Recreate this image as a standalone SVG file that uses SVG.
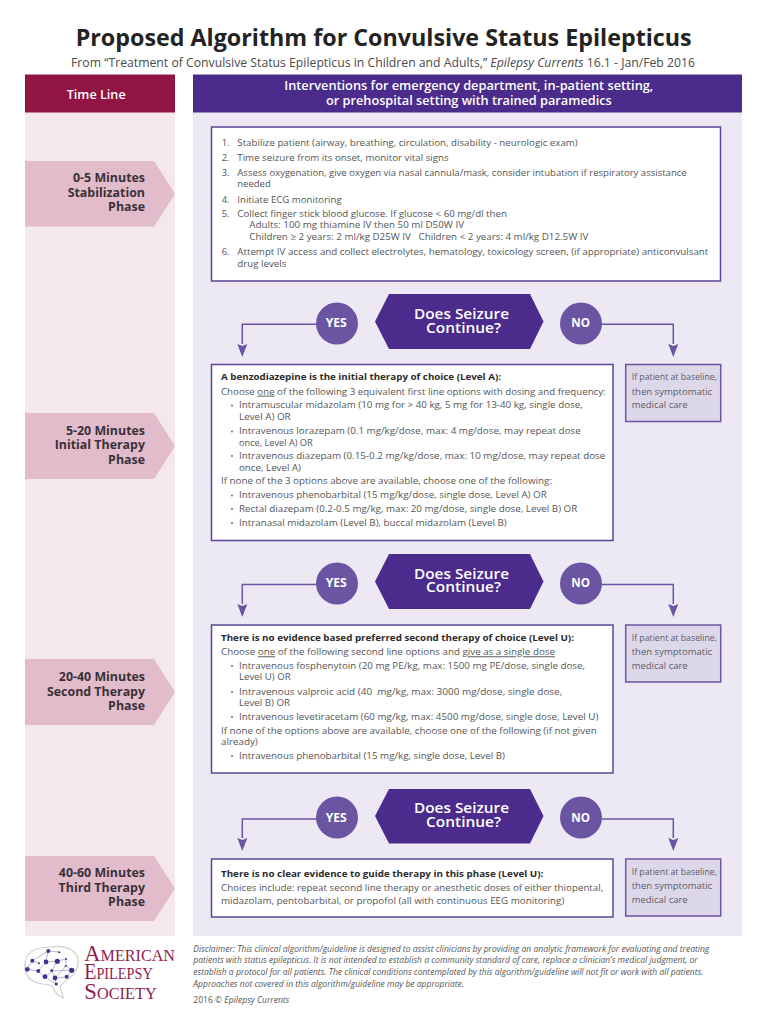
<svg xmlns="http://www.w3.org/2000/svg" width="768" height="1024" viewBox="0 0 768 1024">
<style>
text{font-family:"Open Sans","Liberation Sans",sans-serif}
.b{font-size:9.4px;fill:#565656}
.h{font-size:9.4px;font-weight:700;fill:#2b2b2b}
.s{font-size:9.2px;fill:#5d5a66}
.d{font-size:9px;font-style:italic;fill:#565656}
.t{font-size:12.4px;font-weight:700;fill:#3a3138;text-anchor:end}
.q{font-size:14px;font-weight:600;fill:#fff;text-anchor:middle}
.c{font-size:12px;font-weight:700;fill:#fff;text-anchor:middle}
.hw{font-size:12px;font-weight:600;fill:#fff}
.box{fill:#fff;stroke:#5b4499;stroke-width:1.5}
.side{fill:#dcd8ea;stroke:#6b55a3;stroke-width:1.5}
.hex{fill:#4b2c8c}
.circ{fill:#6b55a3}
.arr{fill:#e2bccb}
.conn{fill:none;stroke:#6b55a3;stroke-width:1.5;marker-end:url(#ah)}
.logo{font-family:"Liberation Serif",serif;fill:#8f1d4e;font-size:23px}
.sc{font-size:16.5px}
.bl{fill:#5d5a66}
</style>
<defs>
<marker id="ah" markerUnits="userSpaceOnUse" markerWidth="14" markerHeight="12" refX="0" refY="5.5" orient="auto" viewBox="0 0 14 11">
<polygon points="0,0.5 13,5.5 0,10.5 2,5.5" fill="#6b55a3"/>
</marker>
</defs>
<rect width="768" height="1024" fill="#fff"/>
<g id="title">
<text x="75.7" y="45.7" font-size="22.5" font-weight="700" fill="#232323" textLength="616" lengthAdjust="spacingAndGlyphs">Proposed Algorithm for Convulsive Status Epilepticus</text>
<text x="71" y="66.5" font-size="12" fill="#4a4a4a" textLength="624" lengthAdjust="spacingAndGlyphs">From “Treatment of Convulsive Status Epilepticus in Children and Adults,” <tspan font-style="italic">Epilepsy Currents</tspan> 16.1 - Jan/Feb 2016</text>
</g>
<g id="timeline-column">
<rect x="25" y="112" width="150" height="824" fill="#f4e7ed"/>
<rect x="25" y="74.5" width="150" height="38" fill="#921443"/>
<text class="hw" x="66.7" y="99" textLength="59" lengthAdjust="spacingAndGlyphs">Time Line</text>
</g>
<g id="interventions-column">
<rect x="193" y="112" width="549" height="824" fill="#ece9f4"/>
<rect x="193" y="74.5" width="549" height="38" fill="#4b2c8c"/>
<text class="hw" x="284.3" y="89.7" textLength="369" lengthAdjust="spacingAndGlyphs">Interventions for emergency department, in-patient setting,</text>
<text class="hw" x="326" y="105" textLength="285.7" lengthAdjust="spacingAndGlyphs">or prehospital setting with trained paramedics</text>
</g>
<g id="phase-1">
<polygon class="arr" points="25,161 154,161 175,194 154,226.5 25,226.5"/>
<text class="t" x="145" y="182">0-5 Minutes</text>
<text class="t" x="145" y="196.7">Stabilization</text>
<text class="t" x="145" y="210.7">Phase</text>
</g>
<g id="phase-2">
<polygon class="arr" points="25,413 154,413 175,446 154,479 25,479"/>
<text class="t" x="145" y="435">5-20 Minutes</text>
<text class="t" x="145" y="449.3">Initial Therapy</text>
<text class="t" x="145" y="464.3">Phase</text>
</g>
<g id="phase-3">
<polygon class="arr" points="25,659 154,659 175,692 154,725 25,725"/>
<text class="t" x="145" y="681">20-40 Minutes</text>
<text class="t" x="145" y="695.5">Second Therapy</text>
<text class="t" x="145" y="710">Phase</text>
</g>
<g id="phase-4">
<polygon class="arr" points="25,856 154,856 175,888.5 154,921 25,921"/>
<text class="t" x="145" y="877">40-60 Minutes</text>
<text class="t" x="145" y="892">Third Therapy</text>
<text class="t" x="145" y="906">Phase</text>
</g>
<g id="connectors">
<path class="conn" d="M317 324.3H242.3V344"/>
<path class="conn" d="M602 324.3H673.3V344"/>
<path class="conn" d="M317 584.5H242.3V604"/>
<path class="conn" d="M602 584.5H673.3V604"/>
<path class="conn" d="M317 819H242.3V838"/>
<path class="conn" d="M602 819H673.3V838"/>
</g>
<g id="stabilize-box">
<rect class="box" x="211.5" y="127" width="509" height="154"/>
<text class="b" x="221.7" y="146">1.</text><text class="b" x="237.3" y="146" textLength="340.4" lengthAdjust="spacingAndGlyphs">Stabilize patient (airway, breathing, circulation, disability - neurologic exam)</text>
<text class="b" x="221.7" y="161">2.</text><text class="b" x="237.3" y="161" textLength="211.4" lengthAdjust="spacingAndGlyphs">Time seizure from its onset, monitor vital signs</text>
<text class="b" x="221.7" y="176">3.</text><text class="b" x="237.3" y="176" textLength="449.4" lengthAdjust="spacingAndGlyphs">Assess oxygenation, give oxygen via nasal cannula/mask, consider intubation if respiratory assistance</text>
<text class="b" x="237.3" y="187" textLength="33.4" lengthAdjust="spacingAndGlyphs">needed</text>
<text class="b" x="221.7" y="202.7">4.</text><text class="b" x="237.3" y="202.7" textLength="104.4" lengthAdjust="spacingAndGlyphs">Initiate ECG monitoring</text>
<text class="b" x="221.7" y="217">5.</text><text class="b" x="237.3" y="217" textLength="269.7" lengthAdjust="spacingAndGlyphs">Collect finger stick blood glucose. If glucose &lt; 60 mg/dl then</text>
<text class="b" x="249.3" y="228.3" textLength="214.7" lengthAdjust="spacingAndGlyphs">Adults: 100 mg thiamine IV then 50 ml D50W IV</text>
<text class="b" x="249.3" y="240" textLength="339" lengthAdjust="spacingAndGlyphs" xml:space="preserve">Children ≥ 2 years: 2 ml/kg D25W IV   Children &lt; 2 years: 4 ml/kg D12.5W IV</text>
<text class="b" x="221.7" y="255.3">6.</text><text class="b" x="237.3" y="255.3" textLength="471" lengthAdjust="spacingAndGlyphs">Attempt IV access and collect electrolytes, hematology, toxicology screen, (if appropriate) anticonvulsant</text>
<text class="b" x="237.3" y="266.7" textLength="49" lengthAdjust="spacingAndGlyphs">drug levels</text>
</g>
<g id="decision-1">
<polygon class="hex" points="375,321.5 389,294 530,294 543.5,321.5 530,349 389,349"/>
<text class="q" x="461.5" y="318.7" textLength="95" lengthAdjust="spacingAndGlyphs">Does Seizure</text>
<text class="q" x="463.5" y="332.7" textLength="75" lengthAdjust="spacingAndGlyphs">Continue?</text>
</g>
<g id="yes-1"><circle class="circ" cx="337" cy="323.5" r="21"/><text class="c" x="336.2" y="327.3" textLength="21" lengthAdjust="spacingAndGlyphs">YES</text></g>
<g id="no-1"><circle class="circ" cx="581" cy="323.5" r="21"/><text class="c" x="580.7" y="327.3" textLength="18.7" lengthAdjust="spacingAndGlyphs">NO</text></g>
<g id="initial-box">
<rect class="box" x="211.5" y="364.5" width="401.5" height="176"/>
<text class="h" x="221" y="380.3" textLength="280" lengthAdjust="spacingAndGlyphs">A benzodiazepine is the initial therapy of choice (Level A):</text>
<text class="b" x="221" y="394.7" textLength="384.7" lengthAdjust="spacingAndGlyphs">Choose <tspan text-decoration="underline">one</tspan> of the following 3 equivalent first line options with dosing and frequency:</text>
<circle class="bl" cx="232" cy="405.5" r="0.9"/><text class="b" x="239" y="408.3" textLength="343.7" lengthAdjust="spacingAndGlyphs">Intramuscular midazolam (10 mg for &gt; 40 kg, 5 mg for 13-40 kg, single dose,</text>
<text class="b" x="239" y="420" textLength="51.7" lengthAdjust="spacingAndGlyphs">Level A) OR</text>
<circle class="bl" cx="232" cy="431.5" r="0.9"/><text class="b" x="239" y="434.3" textLength="341.7" lengthAdjust="spacingAndGlyphs">Intravenous lorazepam (0.1 mg/kg/dose, max: 4 mg/dose, may repeat dose</text>
<text class="b" x="239" y="445.7" textLength="73.7" lengthAdjust="spacingAndGlyphs">once, Level A) OR</text>
<circle class="bl" cx="232" cy="456" r="0.9"/><text class="b" x="239" y="459" textLength="366.3" lengthAdjust="spacingAndGlyphs">Intravenous diazepam (0.15-0.2 mg/kg/dose, max: 10 mg/dose, may repeat dose</text>
<text class="b" x="239" y="470.7" textLength="62" lengthAdjust="spacingAndGlyphs">once, Level A)</text>
<text class="b" x="221" y="484" textLength="331" lengthAdjust="spacingAndGlyphs">If none of the 3 options above are available, choose one of the following:</text>
<circle class="bl" cx="232" cy="495.5" r="0.9"/><text class="b" x="239" y="498.3" textLength="307.7" lengthAdjust="spacingAndGlyphs">Intravenous phenobarbital (15 mg/kg/dose, single dose, Level A) OR</text>
<circle class="bl" cx="232" cy="509" r="0.9"/><text class="b" x="239" y="512" textLength="338.3" lengthAdjust="spacingAndGlyphs">Rectal diazepam (0.2-0.5 mg/kg, max: 20 mg/dose, single dose, Level B) OR</text>
<circle class="bl" cx="232" cy="523" r="0.9"/><text class="b" x="239" y="526" textLength="267.7" lengthAdjust="spacingAndGlyphs">Intranasal midazolam (Level B), buccal midazolam (Level B)</text>
</g>
<g id="side-1">
<rect class="side" x="625.7" y="364.5" width="95" height="57"/>
<text class="s" x="631.7" y="380" textLength="85.3" lengthAdjust="spacingAndGlyphs">If patient at baseline,</text>
<text class="s" x="631.7" y="395" textLength="80.5" lengthAdjust="spacingAndGlyphs">then symptomatic</text>
<text class="s" x="631.7" y="408.3" textLength="56" lengthAdjust="spacingAndGlyphs">medical care</text>
</g>
<g id="decision-2">
<polygon class="hex" points="375,581.5 389,554 530,554 543.5,581.5 530,609 389,609"/>
<text class="q" x="461.5" y="579.3" textLength="95" lengthAdjust="spacingAndGlyphs">Does Seizure</text>
<text class="q" x="463.5" y="592.3" textLength="75" lengthAdjust="spacingAndGlyphs">Continue?</text>
</g>
<g id="yes-2"><circle class="circ" cx="337" cy="583.5" r="21"/><text class="c" x="336.2" y="586.7" textLength="21" lengthAdjust="spacingAndGlyphs">YES</text></g>
<g id="no-2"><circle class="circ" cx="581" cy="583.5" r="21"/><text class="c" x="580.7" y="586.7" textLength="18.7" lengthAdjust="spacingAndGlyphs">NO</text></g>
<g id="second-box">
<rect class="box" x="211.5" y="625" width="401.5" height="148"/>
<text class="h" x="221" y="641" textLength="353" lengthAdjust="spacingAndGlyphs">There is no evidence based preferred second therapy of choice (Level U):</text>
<text class="b" x="221" y="655.3" textLength="334" lengthAdjust="spacingAndGlyphs">Choose <tspan text-decoration="underline">one</tspan> of the following second line options and <tspan text-decoration="underline">give as a single dose</tspan></text>
<circle class="bl" cx="232" cy="666" r="0.9"/><text class="b" x="239" y="669" textLength="346" lengthAdjust="spacingAndGlyphs">Intravenous fosphenytoin (20 mg PE/kg, max: 1500 mg PE/dose, single dose,</text>
<text class="b" x="239" y="680.3" textLength="51.7" lengthAdjust="spacingAndGlyphs">Level U) OR</text>
<circle class="bl" cx="232" cy="692" r="0.9"/><text class="b" x="239" y="694.7" textLength="323.3" lengthAdjust="spacingAndGlyphs" xml:space="preserve">Intravenous valproic acid (40  mg/kg, max: 3000 mg/dose, single dose,</text>
<text class="b" x="239" y="706" textLength="51" lengthAdjust="spacingAndGlyphs">Level B) OR</text>
<circle class="bl" cx="232" cy="717" r="0.9"/><text class="b" x="239" y="719.7" textLength="359.3" lengthAdjust="spacingAndGlyphs">Intravenous levetiracetam (60 mg/kg, max: 4500 mg/dose, single dose, Level U)</text>
<text class="b" x="221" y="734" textLength="375.7" lengthAdjust="spacingAndGlyphs">If none of the options above are available, choose one of the following (if not given</text>
<text class="b" x="221" y="745.3" textLength="36.7" lengthAdjust="spacingAndGlyphs">already)</text>
<circle class="bl" cx="232" cy="756" r="0.9"/><text class="b" x="239" y="759" textLength="266" lengthAdjust="spacingAndGlyphs">Intravenous phenobarbital (15 mg/kg, single dose, Level B)</text>
</g>
<g id="side-2">
<rect class="side" x="625.7" y="625" width="95" height="57"/>
<text class="s" x="631.7" y="641" textLength="85.3" lengthAdjust="spacingAndGlyphs">If patient at baseline,</text>
<text class="s" x="631.7" y="654.7" textLength="80.5" lengthAdjust="spacingAndGlyphs">then symptomatic</text>
<text class="s" x="631.7" y="669" textLength="56" lengthAdjust="spacingAndGlyphs">medical care</text>
</g>
<g id="decision-3">
<polygon class="hex" points="375,816 389,789 530,789 543.5,816 530,843.5 389,843.5"/>
<text class="q" x="461.5" y="813.3" textLength="95" lengthAdjust="spacingAndGlyphs">Does Seizure</text>
<text class="q" x="463.5" y="827.3" textLength="75" lengthAdjust="spacingAndGlyphs">Continue?</text>
</g>
<g id="yes-3"><circle class="circ" cx="337" cy="817.5" r="21"/><text class="c" x="336.2" y="821.7" textLength="21" lengthAdjust="spacingAndGlyphs">YES</text></g>
<g id="no-3"><circle class="circ" cx="581" cy="817.5" r="21"/><text class="c" x="580.7" y="821.7" textLength="18.7" lengthAdjust="spacingAndGlyphs">NO</text></g>
<g id="third-box">
<rect class="box" x="211.5" y="859" width="401.5" height="58"/>
<text class="h" x="221" y="877" textLength="322.3" lengthAdjust="spacingAndGlyphs">There is no clear evidence to guide therapy in this phase (Level U):</text>
<text class="b" x="221" y="891.3" textLength="382.3" lengthAdjust="spacingAndGlyphs">Choices include: repeat second line therapy or anesthetic doses of either thiopental,</text>
<text class="b" x="221" y="904" textLength="343.3" lengthAdjust="spacingAndGlyphs">midazolam, pentobarbital, or propofol (all with continuous EEG monitoring)</text>
</g>
<g id="side-3">
<rect class="side" x="625.7" y="859" width="95" height="57"/>
<text class="s" x="631.7" y="875" textLength="85.3" lengthAdjust="spacingAndGlyphs">If patient at baseline,</text>
<text class="s" x="631.7" y="889.3" textLength="80.5" lengthAdjust="spacingAndGlyphs">then symptomatic</text>
<text class="s" x="631.7" y="903" textLength="56" lengthAdjust="spacingAndGlyphs">medical care</text>
</g>
<g id="logo">
<path d="M25 967C24 957 30 951 37 949C43 947 49 947 52 947C62 945 70 947 76 954C80 960 78 970 72 976C68 980 62 982 60 987C61 992 64 996 63 998C58 996 55 992 53 988C52 985 48 984 42 984C36 983 30 981 27 975C25 972 25 970 25 967Z" fill="#fff" stroke="#cfcfcf" stroke-width="1.2"/>
<g stroke="#8b83b8" stroke-width="0.6" fill="none">
<path d="M48 951L59 952M48 951L46 962M48 951L32 961M32 961L39 963M32 961L27 969M27 969L38 971M38 971L46 962M46 962L57 961M57 961L66 959M57 961L52 971M52 971L55 978M52 971L45 977M45 977L38 971M55 978L67 977M67 977L72 970M72 970L66 966M66 959L66 966M66 966L55 978M45 977L56 984M56 984L55 978M52 971L72 970"/>
</g>
<g fill="#42318f">
<circle cx="48.3" cy="951" r="2"/><circle cx="59.3" cy="952.3" r="1"/><circle cx="32.3" cy="960.7" r="2"/><circle cx="46" cy="962" r="2.4"/><circle cx="57.3" cy="961.3" r="2.6"/><circle cx="66" cy="959" r="1"/><circle cx="39" cy="963.3" r="1"/><circle cx="27.3" cy="969.3" r="2.4"/><circle cx="38.3" cy="971" r="2"/><circle cx="51.7" cy="970.7" r="1.4"/><circle cx="65.7" cy="966" r="1"/><circle cx="71.7" cy="970.3" r="2.6"/><circle cx="45" cy="976.7" r="2.4"/><circle cx="55" cy="978" r="2.4"/><circle cx="66.7" cy="976.7" r="2"/><circle cx="56.3" cy="984" r="1.6"/>
</g>
<text class="logo" x="84.3" y="960.7" textLength="90.7" lengthAdjust="spacingAndGlyphs">A<tspan class="sc">MERICAN</tspan></text>
<text class="logo" x="84.3" y="979.3" textLength="68.4" lengthAdjust="spacingAndGlyphs">E<tspan class="sc">PILEPSY</tspan></text>
<text class="logo" x="84.3" y="999" textLength="72.4" lengthAdjust="spacingAndGlyphs">S<tspan class="sc">OCIETY</tspan></text>
</g>
<g id="disclaimer">
<text class="d" x="193.3" y="952" textLength="516" lengthAdjust="spacingAndGlyphs">Disclaimer: This clinical algorithm/guideline is designed to assist clinicians by providing an analytic framework for evaluating and treating</text>
<text class="d" x="193.3" y="963.3" textLength="504.4" lengthAdjust="spacingAndGlyphs">patients with status epilepticus. It is not intended to establish a community standard of care, replace a clinician’s medical judgment, or</text>
<text class="d" x="193.3" y="974.7" textLength="510" lengthAdjust="spacingAndGlyphs">establish a protocol for all patients. The clinical conditions contemplated by this algorithm/guideline will not fit or work with all patients.</text>
<text class="d" x="193.3" y="987.3" textLength="270.7" lengthAdjust="spacingAndGlyphs">Approaches not covered in this algorithm/guideline may be appropriate.</text>
<text class="d" x="193.3" y="1002.7" style="font-style:normal" textLength="96" lengthAdjust="spacingAndGlyphs">2016 © <tspan font-style="italic">Epilepsy Currents</tspan></text>
</g>
</svg>
